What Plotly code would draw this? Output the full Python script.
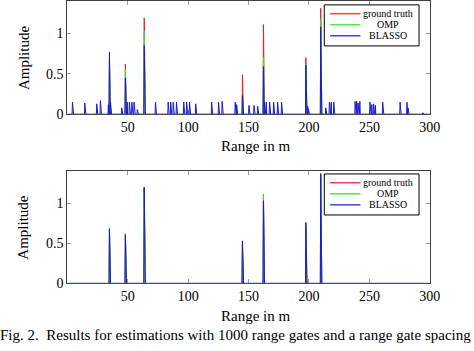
import numpy as np
import plotly.graph_objects as go

# ---------------- data ----------------
N_GATES = 1000
GATE_SPACING = 0.3

peak_pos = [34.7, 48.1, 63.5, 145.0, 162.3, 197.4, 209.7]
truth_amp = [0.68, 0.62, 1.19, 0.49, 1.11, 0.70, 1.31]

# upper panel
omp_amp_a = [0.70, 0.55, 1.03, 0.20, 0.71, 0.62, 1.17]
blasso_amp_a = [0.77, 0.45, 0.85, 0.23, 0.59, 0.61, 1.08]
blasso_spur_pos = [4.1, 14.4, 24.4, 27.2, 34.0, 35.6, 45.0, 49.5, 51.4, 53.3, 55.1, 58.0,
                   73.0, 83.5, 85.6, 87.6, 90.3, 96.4, 98.8, 101.2, 106.2, 106.8,
                   119.3, 125.2, 128.0, 138.8, 139.4, 140.2, 145.6, 150.3, 154.6, 157.4,
                   163.3, 164.6, 167.3, 170.8, 174.0, 177.3, 198.8, 199.5,
                   214.0, 216.9, 218.5, 220.6, 238.3, 239.3, 240.6, 242.0,
                   250.5, 252.0, 253.5, 255.0, 261.0, 275.4, 281.0, 282.0, 294.4]
blasso_spur_amp = [0.15, 0.14, 0.13, 0.17, 0.12, 0.15, 0.08, 0.15, 0.15, 0.15, 0.15, 0.06,
                   0.15, 0.15, 0.15, 0.15, 0.15, 0.15, 0.15, 0.15, 0.13, 0.06,
                   0.15, 0.15, 0.16, 0.15, 0.08, 0.12, 0.10, 0.11, 0.11, 0.10,
                   0.15, 0.15, 0.15, 0.15, 0.15, 0.15, 0.10, 0.07,
                   0.08, 0.15, 0.15, 0.15, 0.16, 0.16, 0.14, 0.16,
                   0.15, 0.12, 0.13, 0.11, 0.15, 0.15, 0.15, 0.08, 0.02]

# lower panel
omp_amp_b = [0.69, 0.62, 1.19, 0.52, 1.11, 0.75, 1.36]
blasso_amp_b = [0.68, 0.60, 1.20, 0.53, 1.03, 0.76, 1.37]

x_ticks = [50, 100, 150, 200, 250, 300]
y_ticks = [0, 0.5, 1]
y_tick_text = ["0", "0.5", "1"]

series_names = ["ground truth", "OMP", "BLASSO"]
caption = "Fig. 2.  Results for estimations with 1000 range gates and a range gate spacing"

# ---------------- helpers ----------------
rng = GATE_SPACING * (np.arange(N_GATES) + 1)


def to_grid(pos_list, amp_list):
    y = np.zeros(N_GATES)
    for p, a in zip(pos_list, amp_list):
        i = int(round(p / GATE_SPACING)) - 1
        y[i] = max(y[i], a)
    return y


truth = to_grid(peak_pos, truth_amp)
omp_a = to_grid(peak_pos, omp_amp_a)
bl_a = to_grid(peak_pos + blasso_spur_pos, blasso_amp_a + blasso_spur_amp)
omp_b = to_grid(peak_pos, omp_amp_b)
bl_b = to_grid(peak_pos, blasso_amp_b)

W, H = 474, 351
FONT = "Liberation Serif, Times New Roman, DejaVu Serif, serif"
colors = ["rgb(235,30,30)", "rgb(50,225,50)", "rgb(25,25,215)"]
legend_colors = ["rgb(235,70,70)", "rgb(80,230,80)", "rgb(70,70,225)"]

fig = go.Figure()
panels = [("x", "y", [truth, omp_a, bl_a]),
          ("x2", "y2", [truth, omp_b, bl_b])]
for xa, ya, ys in panels:
    for name, col, y in zip(series_names, colors, ys):
        fig.add_trace(go.Scatter(x=rng, y=y, mode="lines", name=name,
                                 line=dict(color=col, width=1.0),
                                 xaxis=xa, yaxis=ya, showlegend=False,
                                 hoverinfo="skip"))

x_dom = [69 / W, 440 / W]
top_dom = [1 - 117 / H, 1 - 1 / H]
bot_dom = [1 - 290 / H, 1 - 175 / H]

axis_common = dict(showline=True, linecolor="#404040", linewidth=1, mirror="ticks",
                   ticks="inside", ticklen=4, tickcolor="#9a9a9a", showgrid=False,
                   zeroline=False, layer="below traces",
                   tickfont=dict(family=FONT, size=14, color="black"))

fig.update_layout(
    width=W, height=H, margin=dict(l=0, r=0, t=0, b=0),
    paper_bgcolor="white", plot_bgcolor="white", showlegend=False,
    xaxis=dict(domain=x_dom, range=[0, 300], tickvals=x_ticks, anchor="y", **axis_common),
    yaxis=dict(domain=top_dom, range=[0, 1.4], tickvals=y_ticks, ticktext=y_tick_text,
               anchor="x", **axis_common),
    xaxis2=dict(domain=x_dom, range=[0, 300], tickvals=x_ticks, anchor="y2", **axis_common),
    yaxis2=dict(domain=bot_dom, range=[0, 1.4], tickvals=y_ticks, ticktext=y_tick_text,
                anchor="x2", **axis_common),
)

annots = [
    dict(text="Amplitude", x=24 / W, y=(top_dom[0] + top_dom[1]) / 2, textangle=-90),
    dict(text="Amplitude", x=24 / W, y=(bot_dom[0] + bot_dom[1]) / 2, textangle=-90),
    dict(text="Range in m", x=262 / W, y=1 - 149 / H),
    dict(text="Range in m", x=262 / W, y=1 - 323 / H),
]
for a in annots:
    fig.add_annotation(xref="paper", yref="paper", showarrow=False,
                       xanchor="center", yanchor="middle",
                       font=dict(family=FONT, size=15, color="black"), **a)
fig.add_annotation(xref="paper", yref="paper", showarrow=False, text=caption,
                   x=-2 / W, y=1 - 343 / H, xanchor="left", yanchor="middle",
                   font=dict(family=FONT, size=15, color="black"))

# legend boxes (one per panel), drawn in paper pixels
for top in (5, 178):
    fig.add_shape(type="rect", xref="paper", yref="paper",
                  x0=332 / W, x1=429 / W, y0=1 - (top + 42) / H, y1=1 - top / H,
                  line=dict(color="black", width=1), fillcolor="white", layer="above")
    for k, (name, col) in enumerate(zip(series_names, legend_colors)):
        yc = top + 9 + 11.3 * k
        fig.add_shape(type="line", xref="paper", yref="paper",
                      x0=338 / W, x1=369 / W, y0=1 - yc / H, y1=1 - yc / H,
                      line=dict(color=col, width=1.5), layer="above")
        fig.add_annotation(xref="paper", yref="paper", showarrow=False, text=name,
                           x=397.5 / W, y=1 - yc / H, xanchor="center", yanchor="middle",
                           font=dict(family=FONT, size=10, color="black"))

fig.write_html("out.html")
